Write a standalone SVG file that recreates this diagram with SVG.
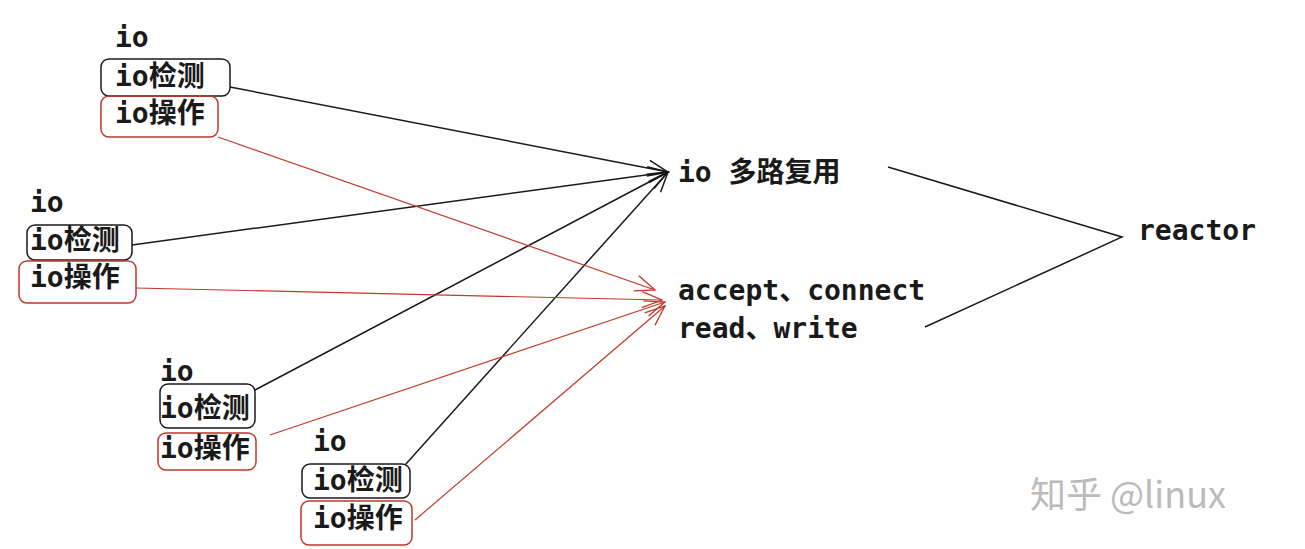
<svg xmlns="http://www.w3.org/2000/svg" width="1305" height="549" viewBox="0 0 1305 549">
<style>
text{font-family:"DejaVu Sans Mono","Liberation Mono","Noto Sans CJK SC",monospace;font-size:28px;font-weight:bold;fill:#1a1a1a}
.b{fill:none;stroke:#1a1a1a;stroke-width:1.5}
.r{fill:none;stroke:#c0392b;stroke-width:1.5}
.k{stroke:#1a1a1a;stroke-width:1.5;fill:none}
.rc{stroke:#c0392b;stroke-width:1.2;fill:none}
</style>
<defs>
<marker id="ab" markerWidth="24" markerHeight="20" refX="22" refY="10" orient="auto" markerUnits="userSpaceOnUse"><path d="M2,2 L22,10 L2,18" fill="none" stroke="#1a1a1a" stroke-width="1.5"/></marker>
<marker id="ar" markerWidth="24" markerHeight="20" refX="22" refY="10" orient="auto" markerUnits="userSpaceOnUse"><path d="M2,2 L22,10 L2,18" fill="none" stroke="#c0392b" stroke-width="1.3"/></marker>
</defs>
<g id="n1"><text x="115" y="47">io</text><rect class="b" x="101" y="59" width="129" height="37" rx="8"/><text x="115" y="86">io检测</text><rect class="r" x="101" y="96" width="117" height="41" rx="8"/><text x="115" y="123">io操作</text></g>
<g id="n2"><text x="30" y="212">io</text><rect class="b" x="27" y="225" width="105" height="35" rx="8"/><text x="30" y="250">io检测</text><rect class="r" x="19" y="261" width="117" height="42" rx="8"/><text x="30" y="287">io操作</text></g>
<g id="n3"><text x="160" y="381">io</text><rect class="b" x="160" y="384" width="95" height="44" rx="8"/><text x="160" y="418">io检测</text><rect class="r" x="158" y="433" width="98" height="37" rx="8"/><text x="160" y="458">io操作</text></g>
<g id="n4"><text x="313" y="451">io</text><rect class="b" x="302" y="464" width="108" height="34" rx="8"/><text x="313" y="490">io检测</text><rect class="r" x="301" y="501" width="111" height="44" rx="8"/><text x="313" y="528">io操作</text></g>
<g id="t1"><text x="678" y="182">io 多路复用</text></g>
<g id="t2"><text x="678" y="300">accept、connect</text><text x="678" y="338">read、write</text></g>
<g id="t3"><text x="1138" y="240">reactor</text></g>
<g id="connectors">
<path class="k" d="M230,87 L668,172" marker-end="url(#ab)"/>
<path class="k" d="M132,245 L668,172" marker-end="url(#ab)"/>
<path class="k" d="M255,390 L668,172" marker-end="url(#ab)"/>
<path class="k" d="M405,465 L668,172" marker-end="url(#ab)"/>
<path class="rc" d="M218,137 L655,290" marker-end="url(#ar)"/>
<path class="rc" d="M136,288 L662,300" marker-end="url(#ar)"/>
<path class="rc" d="M270,435 L665,302" marker-end="url(#ar)"/>
<path class="rc" d="M415,520 L665,306" marker-end="url(#ar)"/>
<path class="k" stroke-width="2" d="M888,167 L1122,237 L925,327"/>
</g>
<text x="1030" y="508" style="font-family:'Noto Sans CJK SC',sans-serif;font-size:36px;font-weight:normal;fill:#bbb">知乎 @linux</text>
</svg>
